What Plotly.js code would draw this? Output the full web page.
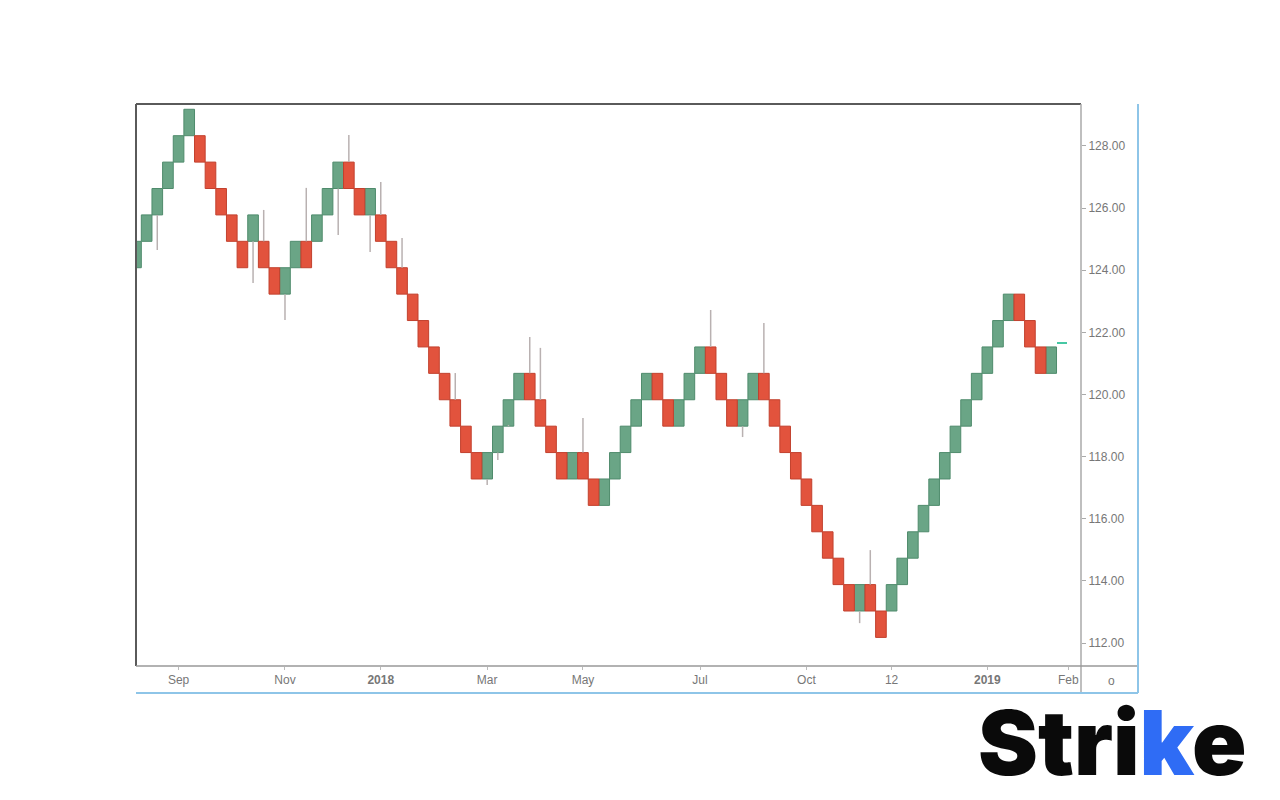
<!DOCTYPE html>
<html>
<head>
<meta charset="utf-8">
<script src="https://cdn.plot.ly/plotly-3.0.1.min.js"></script>
<style>
  html, body { margin: 0; padding: 0; background: #ffffff; }
  #chart { width: 1280px; height: 800px; }
</style>
</head>
<body>
<div id="chart"></div>
<script>
// ---- Data ----
// Brick index along the x axis, brick open and close prices
var brickIndex = [0,1,2,3,4,5,6,7,8,9,10,11,12,13,14,15,16,17,18,19,20,21,22,23,24,25,26,27,28,29,
  30,31,32,33,34,35,36,37,38,39,40,41,42,43,44,45,46,47,48,49,50,51,52,53,54,55,56,57,58,59,
  60,61,62,63,64,65,66,67,68,69,70,71,72,73,74,75,76,77,78,79,80,81,82,83,84,85,86];
var brickOpen = [124.08,124.93,125.78,126.63,127.48,128.33,128.33,127.48,126.63,125.78,124.93,124.93,124.93,124.08,123.23,124.08,124.93,124.93,125.78,126.63,
  127.48,126.63,125.78,125.78,124.93,124.08,123.23,122.38,121.53,120.68,119.83,118.98,118.13,117.28,118.13,118.98,119.83,120.68,119.83,118.98,
  118.13,117.28,118.13,117.28,116.43,117.28,118.13,118.98,119.83,120.68,119.83,118.98,119.83,120.68,121.53,120.68,119.83,118.98,119.83,120.68,
  119.83,118.98,118.13,117.28,116.43,115.58,114.73,113.88,113.03,113.88,113.03,113.03,113.88,114.73,115.58,116.43,117.28,118.13,118.98,119.83,
  120.68,121.53,122.38,123.23,122.38,121.53,120.68];
var brickClose = [124.93,125.78,126.63,127.48,128.33,129.18,127.48,126.63,125.78,124.93,124.08,125.78,124.08,123.23,124.08,124.93,124.08,125.78,126.63,127.48,
  126.63,125.78,126.63,124.93,124.08,123.23,122.38,121.53,120.68,119.83,118.98,118.13,117.28,118.13,118.98,119.83,120.68,119.83,118.98,118.13,
  117.28,118.13,117.28,116.43,117.28,118.13,118.98,119.83,120.68,119.83,118.98,119.83,120.68,121.53,120.68,119.83,118.98,119.83,120.68,119.83,
  118.98,118.13,117.28,116.43,115.58,114.73,113.88,113.03,113.88,113.03,112.18,113.88,114.73,115.58,116.43,117.28,118.13,118.98,119.83,120.68,
  121.53,122.38,123.23,122.38,121.53,120.68,121.53];

// Wicks: brick index and the extreme price reached
var wickIndex   = [2, 11, 12, 14, 16, 19, 20, 22, 23, 25, 30, 33, 34, 35, 37, 38, 42, 54, 57, 59, 68, 69];
var wickExtreme = [124.65,123.59,125.94,122.40,126.65,125.13,128.35,124.59,126.84,125.04,120.69,117.09,117.89,119.02,121.85,121.50,119.24,122.72,118.63,122.30,112.64,114.99];

// Current (forming) price marker
var lastIndex = [87];
var lastPrice = [121.66];

// Axis ticks
var xTickVals = [4, 14, 23, 33, 42, 53, 63, 71, 80, 87.6];
var xTickText = ['Sep', 'Nov', '<b>2018</b>', 'Mar', 'May', 'Jul', 'Oct', '12', '<b>2019</b>', 'Feb'];
var yTickVals = [112, 114, 116, 118, 120, 122, 124, 126, 128];

// ---- Build traces ----
var up = {x: [], base: [], y: []}, dn = {x: [], base: [], y: []};
for (var i = 0; i < brickIndex.length; i++) {
  var lo = Math.min(brickOpen[i], brickClose[i]);
  var h = Math.abs(brickClose[i] - brickOpen[i]);
  var t = brickClose[i] > brickOpen[i] ? up : dn;
  t.x.push(brickIndex[i]); t.base.push(lo); t.y.push(h);
}

// wick segments start at the brick edge nearest to the extreme
var wx = [], wy = [];
for (var j = 0; j < wickIndex.length; j++) {
  var k = wickIndex[j];
  var hi = Math.max(brickOpen[k], brickClose[k]);
  var lw = Math.min(brickOpen[k], brickClose[k]);
  var start = wickExtreme[j] > hi ? hi : lw;
  wx.push(k, k, null);
  wy.push(start, wickExtreme[j], null);
}

var traces = [
  {type: 'bar', x: up.x, base: up.base, y: up.y, width: 1,
   marker: {color: '#6aa586', line: {color: '#4f8b6c', width: 1}}, showlegend: false, hoverinfo: 'skip'},
  {type: 'bar', x: dn.x, base: dn.base, y: dn.y, width: 1,
   marker: {color: '#e2533d', line: {color: '#c2412e', width: 1}}, showlegend: false, hoverinfo: 'skip'},
  {type: 'bar', x: lastIndex, base: lastPrice.map(function(p){return p - 0.045;}), y: lastPrice.map(function(){return 0.09;}), width: 1,
   marker: {color: '#46c8a4', line: {width: 0}}, showlegend: false, hoverinfo: 'skip'},
  {type: 'scatter', mode: 'lines', x: wx, y: wy, line: {color: '#b9b1b1', width: 1.5},
   hoverinfo: 'skip', showlegend: false}
];

var W = 945, H = 562; // plot area size in px
var layout = {
  width: 1280, height: 800,
  margin: {l: 136, r: 199, t: 104, b: 134, pad: 0},
  paper_bgcolor: '#ffffff', plot_bgcolor: '#ffffff',
  barmode: 'overlay', bargap: 0,
  showlegend: false,
  font: {family: 'Liberation Sans, Arial, sans-serif', color: '#777777', size: 12},
  xaxis: {
    range: [0, 88.8], showgrid: false, zeroline: false, showline: false,
    tickmode: 'array', tickvals: xTickVals, ticktext: xTickText,
    ticks: 'outside', ticklen: 3, tickcolor: '#bbbbbb',
    tickfont: {size: 12, color: '#777777'}, fixedrange: true
  },
  yaxis: {
    side: 'right', range: [111.26, 129.35], showgrid: false, zeroline: false,
    showline: false, tickmode: 'array', tickvals: yTickVals, tickformat: '.2f',
    ticks: 'outside', ticklen: 4, tickcolor: '#aaaaaa',
    tickfont: {size: 12, color: '#777777'}, fixedrange: true
  },
  shapes: [
    {type: 'line', xref: 'paper', yref: 'paper', x0: 0, x1: 1, y0: 1, y1: 1, line: {color: '#5a5a5a', width: 2}},
    {type: 'line', xref: 'paper', yref: 'paper', x0: 0, x1: 0, y0: 0, y1: 1, line: {color: '#5a5a5a', width: 2}},
    {type: 'line', xref: 'paper', yref: 'paper', x0: 1, x1: 1, y0: 1, y1: -27 / H, line: {color: '#aaaaaa', width: 1.5}},
    {type: 'line', xref: 'paper', yref: 'paper', x0: 0, x1: (1138 - 136) / W, y0: 0, y1: 0, line: {color: '#999999', width: 1.5}},
    {type: 'line', xref: 'paper', yref: 'paper', x0: (1138 - 136) / W, x1: (1138 - 136) / W, y0: 1, y1: -27 / H, line: {color: '#8ec5e8', width: 2}},
    {type: 'line', xref: 'paper', yref: 'paper', x0: 0, x1: (1138 - 136) / W, y0: -27 / H, y1: -27 / H, line: {color: '#8ec5e8', width: 2}}
  ],
  annotations: [
    {xref: 'paper', yref: 'paper', x: (1111 - 136) / W, y: -15 / H, text: 'o', showarrow: false,
     xanchor: 'center', yanchor: 'middle', font: {size: 12, color: '#777777'}},
    {xref: 'paper', yref: 'paper', x: (1112 - 136) / W, y: -(798 - 666) / H,
     text: 'Stri<span style="color:#2f6cf5">k</span>e', showarrow: false,
     xanchor: 'center', yanchor: 'bottom', borderpad: 0,
     font: {family: 'Inter, Roboto, sans-serif', size: 90, color: '#0a0a0a', weight: 900}}
  ]
};

Plotly.newPlot('chart', traces, layout, {displayModeBar: false, staticPlot: true});
</script>
</body>
</html>
